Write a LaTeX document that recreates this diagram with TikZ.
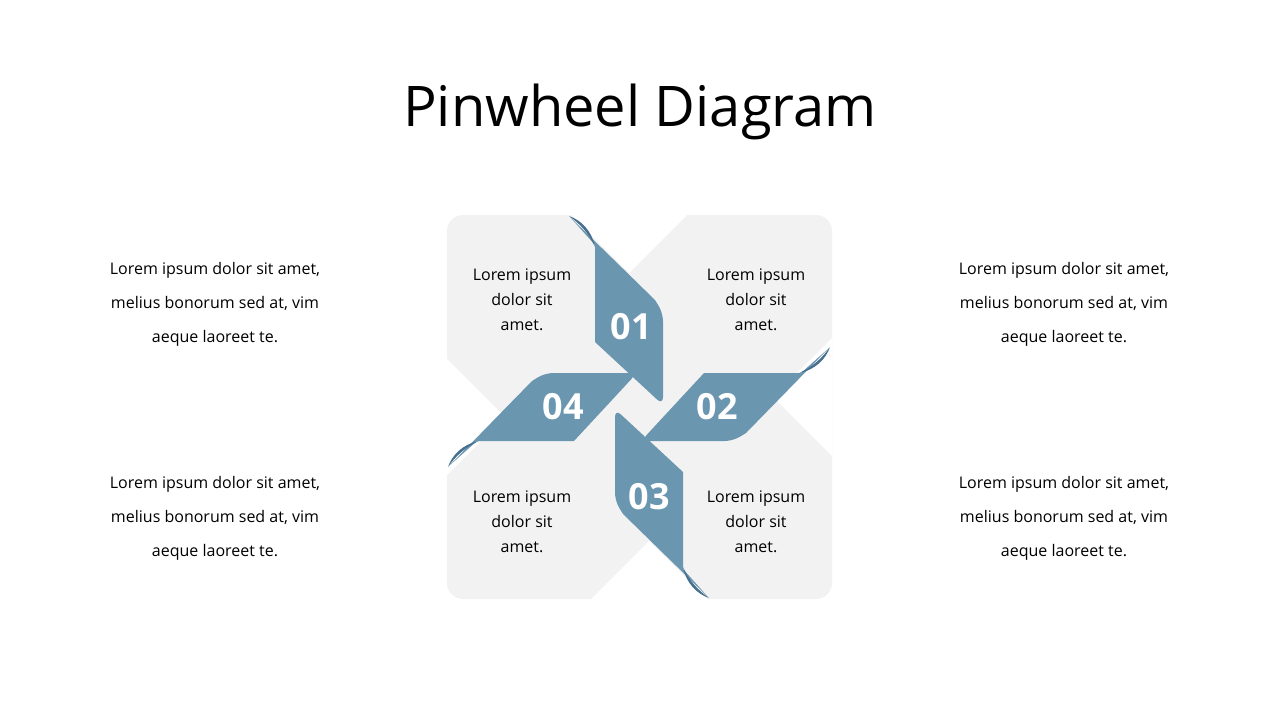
\documentclass[tikz,border=0pt]{standalone}
\usepackage{fontspec}
\setmainfont{Open Sans}
\definecolor{bl}{HTML}{6A96B0}
\definecolor{bd}{HTML}{46708E}
\definecolor{gr}{HTML}{F2F2F2}
\begin{document}
\begin{tikzpicture}[x=1pt,y=-1pt,
  qtext/.style={align=center,font=\fontsize{16}{25}\selectfont,text=black},
  stext/.style={align=center,font=\fontsize{16}{34}\selectfont,text=black},
  num/.style={font=\fontsize{36}{36}\selectfont\bfseries,text=white}]
\useasboundingbox (0,0) rectangle (1280,720);
\node (title) at (640,112) {\fontsize{56}{56}\selectfont Pinwheel Diagram};
\begin{scope}[shift={(639,407)}]
\fill[gr,rounded corners=16] (-192,-192) rectangle (193,192);
\foreach \a in {0,90,180,270}{
  \fill[white,rotate=\a] (-69,-193) -- (49,-193) -- (-10,-134) -- cycle;
}
\foreach \a/\dy in {0/0,90/-10,180/0,270/10}{
  \begin{scope}[yshift=-\dy pt,rotate=\a]
  \fill[bl] (-69,-190) -- (16,-107) [rounded corners=8]-- (24,-94) -- (24,-2) [sharp corners]-- (-44,-65) -- (-44,-162) -- cycle;
  \fill[bd] (-70,-191) .. controls (-58,-187) and (-47,-176) .. (-44,-160) .. controls (-50,-174) and (-60,-184) .. (-70,-191) -- cycle;
  \end{scope}
}
\end{scope}
\node[num] (n1) at (631,327) {01};
\node[num] (n2) at (717,407) {02};
\node[num] (n3) at (649,497) {03};
\node[num] (n4) at (563,407) {04};
\node[qtext] (q1) at (522,300) {Lorem ipsum\\dolor sit\\amet.};
\node[qtext] (q2) at (756,300) {Lorem ipsum\\dolor sit\\amet.};
\node[qtext] (q3) at (756,522) {Lorem ipsum\\dolor sit\\amet.};
\node[qtext] (q4) at (522,522) {Lorem ipsum\\dolor sit\\amet.};
\node[stext] (s1) at (215,304) {Lorem ipsum dolor sit amet,\\melius bonorum sed at, vim\\aeque laoreet te.};
\node[stext] (s2) at (1064,304) {Lorem ipsum dolor sit amet,\\melius bonorum sed at, vim\\aeque laoreet te.};
\node[stext] (s3) at (215,518) {Lorem ipsum dolor sit amet,\\melius bonorum sed at, vim\\aeque laoreet te.};
\node[stext] (s4) at (1064,518) {Lorem ipsum dolor sit amet,\\melius bonorum sed at, vim\\aeque laoreet te.};
\end{tikzpicture}
\end{document}
